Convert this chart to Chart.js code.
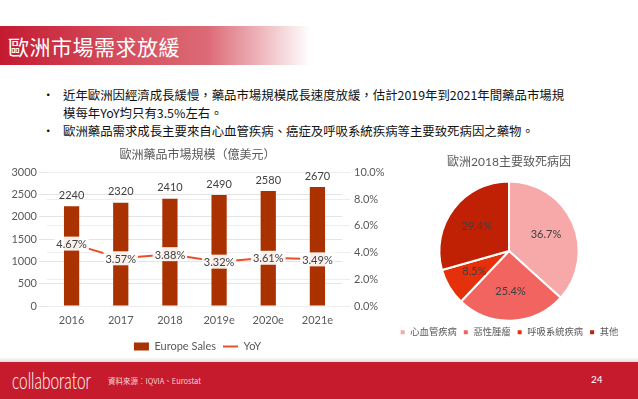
<!DOCTYPE html>
<html>
<head>
<meta charset="utf-8">
<script src="https://cdn.jsdelivr.net/npm/chart.js@4.4.0/dist/chart.umd.min.js"></script>
<style>
  body{margin:0;width:638px;height:399px;position:relative;overflow:hidden;background:#fff;font-family:'Noto Sans CJK TC','Lato',sans-serif}
  #titleBar{position:absolute;left:0;top:26px;width:320px;height:39px;background:linear-gradient(to right,#c41a30 0%,#d44a5a 35%,#dc6a76 65%,#ffffff 97%)}
  #titleBar span{position:absolute;left:8px;top:5px;color:#fff;font-size:21px;letter-spacing:0.5px}
  #bullets{position:absolute;left:42px;top:86px;font-size:12.4px;color:#111;line-height:18px}
  #bullets .b{position:relative;padding-left:21px}
  #bullets .b:before{content:'•';position:absolute;left:0;top:0}
  #c1{position:absolute;left:0;top:142px}
  #c2{position:absolute;left:388px;top:149px}
  #shadow{position:absolute;left:0;top:357px;width:638px;height:6px;background:linear-gradient(rgba(255,255,255,0),#d8d8d8)}
  #footer{position:absolute;left:0;top:362px;width:638px;height:37px;background:#c61b2c}
  #logo{position:absolute;left:12px;top:4px;color:#fff;font-family:'Lato',sans-serif;font-weight:300;font-size:23px;transform:scaleX(0.67);transform-origin:left top}
  #src{position:absolute;left:108px;top:13px;color:#f4d0d0;font-size:7.5px}
  #page{position:absolute;left:591px;top:11px;color:#fff;font-family:'Lato',sans-serif;font-size:10px}
</style>
</head>
<body>
<div id="titleBar"><span>歐洲市場需求放緩</span></div>
<div id="bullets">
  <div class="b">近年歐洲因經濟成長緩慢，藥品市場規模成長速度放緩，估計2019年到2021年間藥品市場規<br>模每年YoY均只有3.5%左右。</div>
  <div class="b">歐洲藥品需求成長主要來自心血管疾病、癌症及呼吸系統疾病等主要致死病因之藥物。</div>
</div>
<canvas id="c1" width="395" height="220"></canvas>
<canvas id="c2" width="242" height="198"></canvas>
<div id="shadow"></div>
<div id="footer"><span id="logo">collaborator</span><span id="src">資料來源：IQVIA、Eurostat</span><span id="page">24</span></div>
<script>
// chart data
var years=['2016','2017','2018','2019e','2020e','2021e']
var sales=[2240,2320,2410,2490,2580,2670]
var yoy=[4.67,3.57,3.88,3.32,3.61,3.49]
var causes=['心血管疾病','惡性腫瘤','呼吸系統疾病','其他']
var causeShares=[36.7,25.4,8.5,29.4]
var causeColors=['#f6a9a8','#f1645f','#e5300c','#c02104']

var fam="'Lato','Noto Sans CJK TC',sans-serif"
var gray='#595959'

// value labels for bars and line points
var labelPlugin={
  id:'labels',
  afterDatasetsDraw:function(chart){
    var ctx=chart.ctx
    ctx.save()
    ctx.font='11px '+fam
    ctx.textAlign='center'
    ctx.textBaseline='middle'
    var lineMeta=chart.getDatasetMeta(0)
    var barMeta=chart.getDatasetMeta(1)
    barMeta.data.forEach(function(bar,i){
      ctx.fillStyle='#404040'
      ctx.fillText(sales[i],bar.x,bar.y-11)
    })
    lineMeta.data.forEach(function(pt,i){
      var t=yoy[i].toFixed(2)+'%'
      var w=ctx.measureText(t).width+4
      ctx.fillStyle='rgba(255,255,255,0.92)'
      ctx.fillRect(pt.x-w/2,pt.y-7,w,14)
      ctx.fillStyle='#404040'
      ctx.fillText(t,pt.x,pt.y+1)
    })
    ctx.restore()
  }
}

new Chart(document.getElementById('c1'),{
  data:{
    labels:years,
    datasets:[
      {type:'line',label:'YoY',data:yoy,yAxisID:'y1',borderColor:'#e8502a',backgroundColor:'#e8502a',borderWidth:2,pointRadius:0,pointStyle:'line',tension:0},
      {type:'bar',label:'Europe Sales',data:sales,yAxisID:'y',backgroundColor:'#a93200',categoryPercentage:1,barPercentage:0.31,pointStyle:'rect'}
    ]
  },
  options:{
    responsive:false,
    animation:false,
    layout:{padding:{top:0,bottom:0,left:0,right:0}},
    plugins:{
      title:{display:true,text:'歐洲藥品市場規模（億美元）',color:gray,font:{family:fam,size:12,weight:'normal'},padding:{top:6,bottom:10}},
      legend:{position:'bottom',labels:{color:gray,font:{family:fam,size:11},usePointStyle:true,pointStyleWidth:15,boxHeight:8,padding:7,sort:function(a,b){return b.datasetIndex-a.datasetIndex}}},
      tooltip:{enabled:false}
    },
    scales:{
      x:{grid:{display:false},border:{display:false},ticks:{color:gray,font:{family:fam,size:11},padding:0},afterFit:function(s){s.height=28}},
      y:{position:'left',min:0,max:3000,ticks:{stepSize:500,color:gray,font:{family:fam,size:11},padding:2,callback:function(v){return String(v)}},grid:{color:'#e4e4e4'},border:{display:false},afterFit:function(s){s.width=47}},
      y1:{position:'right',min:0,max:10,ticks:{stepSize:2,color:gray,font:{family:fam,size:11},padding:4,callback:function(v){return v.toFixed(1)+'%'}},grid:{color:'#eeeeee'},border:{display:false},afterFit:function(s){s.width=53}}
    }
  },
  plugins:[labelPlugin]
})

// pie labels
var pieLabels={
  id:'pieLabels',
  afterDatasetsDraw:function(chart){
    var ctx=chart.ctx
    ctx.save()
    ctx.font='11px '+fam
    ctx.fillStyle='#404040'
    ctx.textAlign='center'
    ctx.textBaseline='middle'
    chart.getDatasetMeta(0).data.forEach(function(arc,i){
      var a=(arc.startAngle+arc.endAngle)/2
      var r=arc.outerRadius*0.58
      ctx.fillText(causeShares[i].toFixed(1)+'%',arc.x+Math.cos(a)*r,arc.y+Math.sin(a)*r)
    })
    ctx.restore()
  }
}

new Chart(document.getElementById('c2'),{
  type:'pie',
  data:{labels:causes,datasets:[{data:causeShares,backgroundColor:causeColors,borderColor:'#fff',borderWidth:2}]},
  options:{
    responsive:false,
    animation:false,
    layout:{padding:{top:0,bottom:0,left:2,right:2}},
    plugins:{
      title:{display:true,text:'歐洲2018主要致死病因',color:gray,font:{family:fam,size:12,weight:'normal'},padding:{top:6,bottom:11}},
      legend:{position:'bottom',labels:{color:gray,font:{family:fam,size:9.3},boxWidth:6,boxHeight:6,padding:6}},
      tooltip:{enabled:false}
    }
  },
  plugins:[pieLabels]
})
</script>
</body>
</html>
